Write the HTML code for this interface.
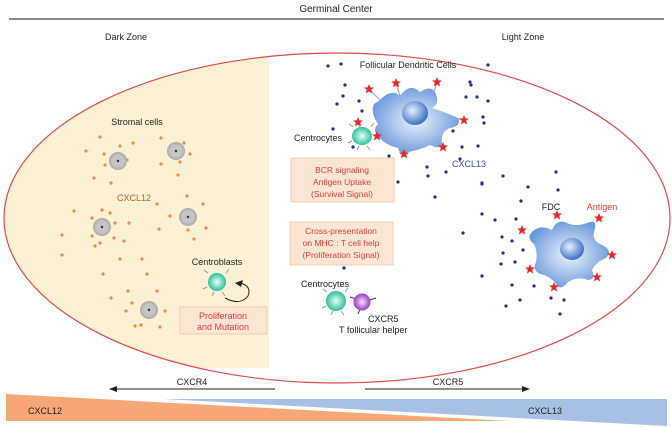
<!DOCTYPE html>
<html><head><meta charset="utf-8"><style>
body{margin:0;background:#fff}
svg{display:block;font-family:"Liberation Sans","DejaVu Sans",sans-serif}
</style></head><body>
<svg width="672" height="427" viewBox="0 0 672 427" xmlns="http://www.w3.org/2000/svg">
<defs>
<clipPath id="el"><ellipse cx="337" cy="218" rx="333" ry="165"/></clipPath>
<radialGradient id="fdc" cx="50%" cy="50%" r="60%"><stop offset="0" stop-color="#eef4fd"/><stop offset="1" stop-color="#5b8fd8"/></radialGradient>
<radialGradient id="nuc" cx="40%" cy="40%" r="60%"><stop offset="0" stop-color="#e8f1ff"/><stop offset="1" stop-color="#3d74c8"/></radialGradient>
<radialGradient id="gc" cx="50%" cy="50%" r="50%"><stop offset="0" stop-color="#f2f2f2"/><stop offset="1" stop-color="#a9a9a9"/></radialGradient>
<radialGradient id="tc" cx="50%" cy="50%" r="50%"><stop offset="0" stop-color="#eafff8"/><stop offset="1" stop-color="#2fbf9c"/></radialGradient>
<radialGradient id="pc" cx="50%" cy="50%" r="50%"><stop offset="0" stop-color="#f4dcff"/><stop offset="1" stop-color="#9a3cc0"/></radialGradient>
<g id="star"><polygon points="0,-5 1.4,-1.6 5,-1.5 2.2,0.8 3.1,4.5 0,2.4 -3.1,4.5 -2.2,0.8 -5,-1.5 -1.4,-1.6" fill="#e8282a"/></g>
<g id="sc"><circle r="9" fill="url(#gc)"/><circle r="5" fill="#c4c4c4"/><circle r="1.2" fill="#333"/></g>
<g id="spk" stroke="#999" stroke-width="1"><line x1="-9" y1="-9" x2="-13" y2="-12"/><line x1="9" y1="-9" x2="12" y2="-13"/><line x1="-10" y1="5" x2="-14" y2="7"/><line x1="5" y1="10" x2="8" y2="14"/><line x1="-3" y1="10" x2="-5" y2="14"/></g>
</defs>
<text x="336" y="12" font-size="10" text-anchor="middle" fill="#222">Germinal Center</text>
<line x1="9" y1="19" x2="664" y2="19" stroke="#444" stroke-width="1.2"/>
<text x="126" y="40" font-size="9" text-anchor="middle" fill="#222">Dark Zone</text>
<text x="523" y="40" font-size="9" text-anchor="middle" fill="#222">Light Zone</text>
<rect x="0" y="50" width="269" height="318" fill="#fdf1d3" clip-path="url(#el)"/>
<ellipse cx="337" cy="218" rx="333" ry="165" fill="none" stroke="#e04a4a" stroke-width="1.2"/>
<text x="137" y="125" font-size="9" text-anchor="middle" fill="#222">Stromal cells</text>
<text x="134" y="201" font-size="9" text-anchor="middle" fill="#b5651d">CXCL12</text>
<g fill="#f28a45">
<circle cx="100" cy="137" r="1.6"/><circle cx="86" cy="151" r="1.6"/><circle cx="104" cy="154" r="1.6"/><circle cx="105" cy="165" r="1.6"/><circle cx="120" cy="146" r="1.6"/><circle cx="133" cy="143" r="1.6"/><circle cx="127" cy="160" r="1.6"/><circle cx="94" cy="178" r="1.6"/><circle cx="111" cy="183" r="1.6"/><circle cx="161" cy="138" r="1.6"/><circle cx="184" cy="143" r="1.6"/><circle cx="161" cy="164" r="1.6"/><circle cx="180" cy="162" r="1.6"/><circle cx="190" cy="154" r="1.6"/><circle cx="178" cy="175" r="1.6"/><circle cx="74" cy="211" r="1.6"/><circle cx="102" cy="210" r="1.6"/><circle cx="92" cy="218" r="1.6"/><circle cx="110" cy="213" r="1.6"/><circle cx="115" cy="223" r="1.6"/><circle cx="129" cy="223" r="1.6"/><circle cx="62" cy="235" r="1.6"/><circle cx="92" cy="236" r="1.6"/><circle cx="95" cy="246" r="1.6"/><circle cx="100" cy="243" r="1.6"/><circle cx="114" cy="238" r="1.6"/><circle cx="124" cy="241" r="1.6"/><circle cx="62" cy="255" r="1.6"/><circle cx="157" cy="204" r="1.6"/><circle cx="187" cy="196" r="1.6"/><circle cx="203" cy="204" r="1.6"/><circle cx="170" cy="216" r="1.6"/><circle cx="188" cy="230" r="1.6"/><circle cx="159" cy="229" r="1.6"/><circle cx="206" cy="228" r="1.6"/><circle cx="194" cy="239" r="1.6"/><circle cx="120" cy="259" r="1.6"/><circle cx="142" cy="259" r="1.6"/><circle cx="103" cy="274" r="1.6"/><circle cx="147" cy="274" r="1.6"/><circle cx="111" cy="298" r="1.6"/><circle cx="128" cy="291" r="1.6"/><circle cx="157" cy="291" r="1.6"/><circle cx="132" cy="303" r="1.6"/><circle cx="126" cy="311" r="1.6"/><circle cx="165" cy="311" r="1.6"/><circle cx="135" cy="326" r="1.6"/><circle cx="141" cy="325" r="1.6"/><circle cx="160" cy="327" r="1.6"/>
</g>
<use href="#sc" x="118" y="161"/><use href="#sc" x="176" y="151"/><use href="#sc" x="102" y="227"/><use href="#sc" x="188" y="217"/><use href="#sc" x="149" y="310"/>
<text x="217" y="265" font-size="9" text-anchor="middle" fill="#222">Centroblasts</text>
<use href="#spk" x="217" y="282"/>
<circle cx="217" cy="282" r="9" fill="url(#tc)"/>
<path d="M225 298 Q240 306 248 296 Q252 286 240 283" fill="none" stroke="#222" stroke-width="1"/>
<polygon points="235,283 243,280 241,287" fill="#222"/>
<rect x="180" y="307" width="87" height="27" fill="#fbe6d4" stroke="#f5cdb2"/>
<text x="223" y="319" font-size="9" text-anchor="middle" fill="#e03a3a">Proliferation</text>
<text x="223" y="330" font-size="9" text-anchor="middle" fill="#e03a3a">and Mutation</text>
<g fill="#1f2f8f">
<circle cx="328" cy="66" r="1.6"/><circle cx="341" cy="64" r="1.6"/><circle cx="345" cy="85" r="1.6"/><circle cx="343" cy="96" r="1.6"/><circle cx="359" cy="101" r="1.6"/><circle cx="337" cy="104" r="1.6"/><circle cx="362" cy="111" r="1.6"/><circle cx="333" cy="129" r="1.6"/><circle cx="353" cy="147" r="1.6"/><circle cx="389" cy="156" r="1.6"/><circle cx="470" cy="82" r="1.6"/><circle cx="471" cy="85" r="1.6"/><circle cx="466" cy="97" r="1.6"/><circle cx="477" cy="97" r="1.6"/><circle cx="488" cy="101" r="1.6"/><circle cx="453" cy="131" r="1.6"/><circle cx="462" cy="147" r="1.6"/><circle cx="478" cy="146" r="1.6"/><circle cx="460" cy="159" r="1.6"/><circle cx="483" cy="117" r="1.6"/><circle cx="488" cy="65" r="1.6"/><circle cx="427" cy="167" r="1.6"/><circle cx="428" cy="176" r="1.6"/><circle cx="446" cy="172" r="1.6"/><circle cx="398" cy="182" r="1.6"/><circle cx="435" cy="197" r="1.6"/><circle cx="482" cy="183" r="1.6"/><circle cx="484" cy="123" r="1.6"/>
<circle cx="503" cy="176" r="1.6"/><circle cx="556" cy="172" r="1.6"/><circle cx="482" cy="184" r="1.6"/><circle cx="528" cy="187" r="1.6"/><circle cx="558" cy="190" r="1.6"/><circle cx="521" cy="201" r="1.6"/><circle cx="482" cy="214" r="1.6"/><circle cx="495" cy="220" r="1.6"/><circle cx="516" cy="219" r="1.6"/><circle cx="463" cy="233" r="1.6"/><circle cx="502" cy="237" r="1.6"/><circle cx="512" cy="241" r="1.6"/><circle cx="503" cy="253" r="1.6"/><circle cx="523" cy="250" r="1.6"/><circle cx="501" cy="264" r="1.6"/><circle cx="515" cy="262" r="1.6"/><circle cx="482" cy="276" r="1.6"/><circle cx="512" cy="285" r="1.6"/><circle cx="534" cy="286" r="1.6"/><circle cx="520" cy="300" r="1.6"/><circle cx="506" cy="306" r="1.6"/><circle cx="551" cy="298" r="1.6"/><circle cx="564" cy="300" r="1.6"/><circle cx="560" cy="314" r="1.6"/><circle cx="344" cy="268" r="1.6"/>
</g>
<text x="408" y="68" font-size="9" text-anchor="middle" fill="#222">Follicular Dendritic Cells</text>
<g stroke="#aaa" stroke-width="1.2"><line x1="369" y1="89" x2="380" y2="100"/><line x1="396" y1="83" x2="400" y2="96"/><line x1="437" y1="82" x2="434" y2="92"/><line x1="464" y1="120" x2="456" y2="118"/><line x1="443" y1="147" x2="436" y2="142"/><line x1="404" y1="154" x2="406" y2="150"/><line x1="377" y1="136" x2="382" y2="134"/><line x1="358" y1="122" x2="360" y2="130"/></g>
<path d="M380,100 Q392,88 400,96 Q410,82 420,92 Q432,84 436,94 Q440,104 432,108 Q445,112 458,118 Q462,126 450,128 Q440,132 442,144 Q440,150 430,145 Q420,150 408,152 Q400,156 398,148 Q385,145 378,136 Q372,130 378,124 Q370,112 374,104 Z" fill="url(#fdc)"/>
<ellipse cx="415" cy="113" rx="13" ry="12" fill="url(#nuc)"/>
<use href="#star" x="369" y="89"/><use href="#star" x="396" y="83"/><use href="#star" x="437" y="82"/><use href="#star" x="464" y="120"/><use href="#star" x="443" y="147"/><use href="#star" x="404" y="154"/><use href="#star" x="377" y="136"/><use href="#star" x="358" y="122"/>
<text x="318" y="141" font-size="9" text-anchor="middle" fill="#222">Centrocytes</text>
<use href="#spk" x="362" y="136"/>
<ellipse cx="362" cy="136" rx="10" ry="9" fill="url(#tc)"/>
<text x="469" y="167" font-size="9" text-anchor="middle" fill="#3a4fa8">CXCL13</text>
<rect x="291" y="158" width="103" height="44" fill="#fbe6d4" stroke="#f5cdb2"/>
<text x="342" y="173" font-size="8.5" text-anchor="middle" fill="#e03a3a">BCR signaling</text>
<text x="342" y="185" font-size="8.5" text-anchor="middle" fill="#e03a3a">Antigen Uptake</text>
<text x="342" y="197" font-size="8.5" text-anchor="middle" fill="#e03a3a">(Survival Signal)</text>
<rect x="290" y="222" width="103" height="43" fill="#fbe6d4" stroke="#f5cdb2"/>
<text x="341" y="234" font-size="8.5" text-anchor="middle" fill="#e03a3a">Cross-presentation</text>
<text x="341" y="246" font-size="8.5" text-anchor="middle" fill="#e03a3a">on MHC : T cell help</text>
<text x="341" y="258" font-size="8.5" text-anchor="middle" fill="#e03a3a">(Proliferation Signal)</text>
<text x="325" y="287" font-size="9" text-anchor="middle" fill="#222">Centrocytes</text>
<use href="#spk" x="336" y="301"/>
<circle cx="336" cy="301" r="10" fill="url(#tc)"/>
<g stroke="#333" stroke-width="1"><line x1="350" y1="297" x2="356" y2="299"/><line x1="370" y1="300" x2="376" y2="298"/><line x1="360" y1="309" x2="358" y2="314"/></g>
<circle cx="362" cy="302" r="8.5" fill="url(#pc)"/>
<text x="368" y="322" font-size="9" fill="#222">CXCR5</text>
<text x="339" y="333" font-size="9" fill="#222">T follicular helper</text>
<text x="551" y="210" font-size="9" text-anchor="middle" fill="#222">FDC</text>
<text x="602" y="210" font-size="9" text-anchor="middle" fill="#e03a3a">Antigen</text>
<path d="M532,232 Q540,224 552,230 Q556,220 565,222 Q575,228 590,222 Q598,220 594,232 Q592,240 600,244 Q614,250 606,258 Q596,262 592,270 Q596,280 588,280 Q578,276 568,282 Q560,292 556,284 Q550,276 540,274 Q532,270 536,262 Q538,252 534,244 Q526,238 532,232 Z" fill="url(#fdc)"/>
<ellipse cx="572" cy="249" rx="12" ry="11" fill="url(#nuc)"/>
<use href="#star" x="557" y="215"/><use href="#star" x="599" y="218"/><use href="#star" x="522" y="230"/><use href="#star" x="612" y="255"/><use href="#star" x="597" y="277"/><use href="#star" x="554" y="287"/><use href="#star" x="530" y="269"/>
<line x1="275" y1="389" x2="113" y2="389" stroke="#222"/>
<polygon points="109,389 117,386 117,392" fill="#222"/>
<line x1="365" y1="389" x2="526" y2="389" stroke="#222"/>
<polygon points="530,389 522,386 522,392" fill="#222"/>
<text x="192" y="385" font-size="9" text-anchor="middle" fill="#222">CXCR4</text>
<text x="448" y="385" font-size="9" text-anchor="middle" fill="#222">CXCR5</text>
<polygon points="6,394 6,421 510,421" fill="#f6a777"/>
<polygon points="163,399 667,399 667,426" fill="#a9c0e6"/>
<text x="28" y="414" font-size="9" fill="#222">CXCL12</text>
<text x="528" y="414" font-size="9" fill="#222">CXCL13</text>
</svg>
</body></html>
